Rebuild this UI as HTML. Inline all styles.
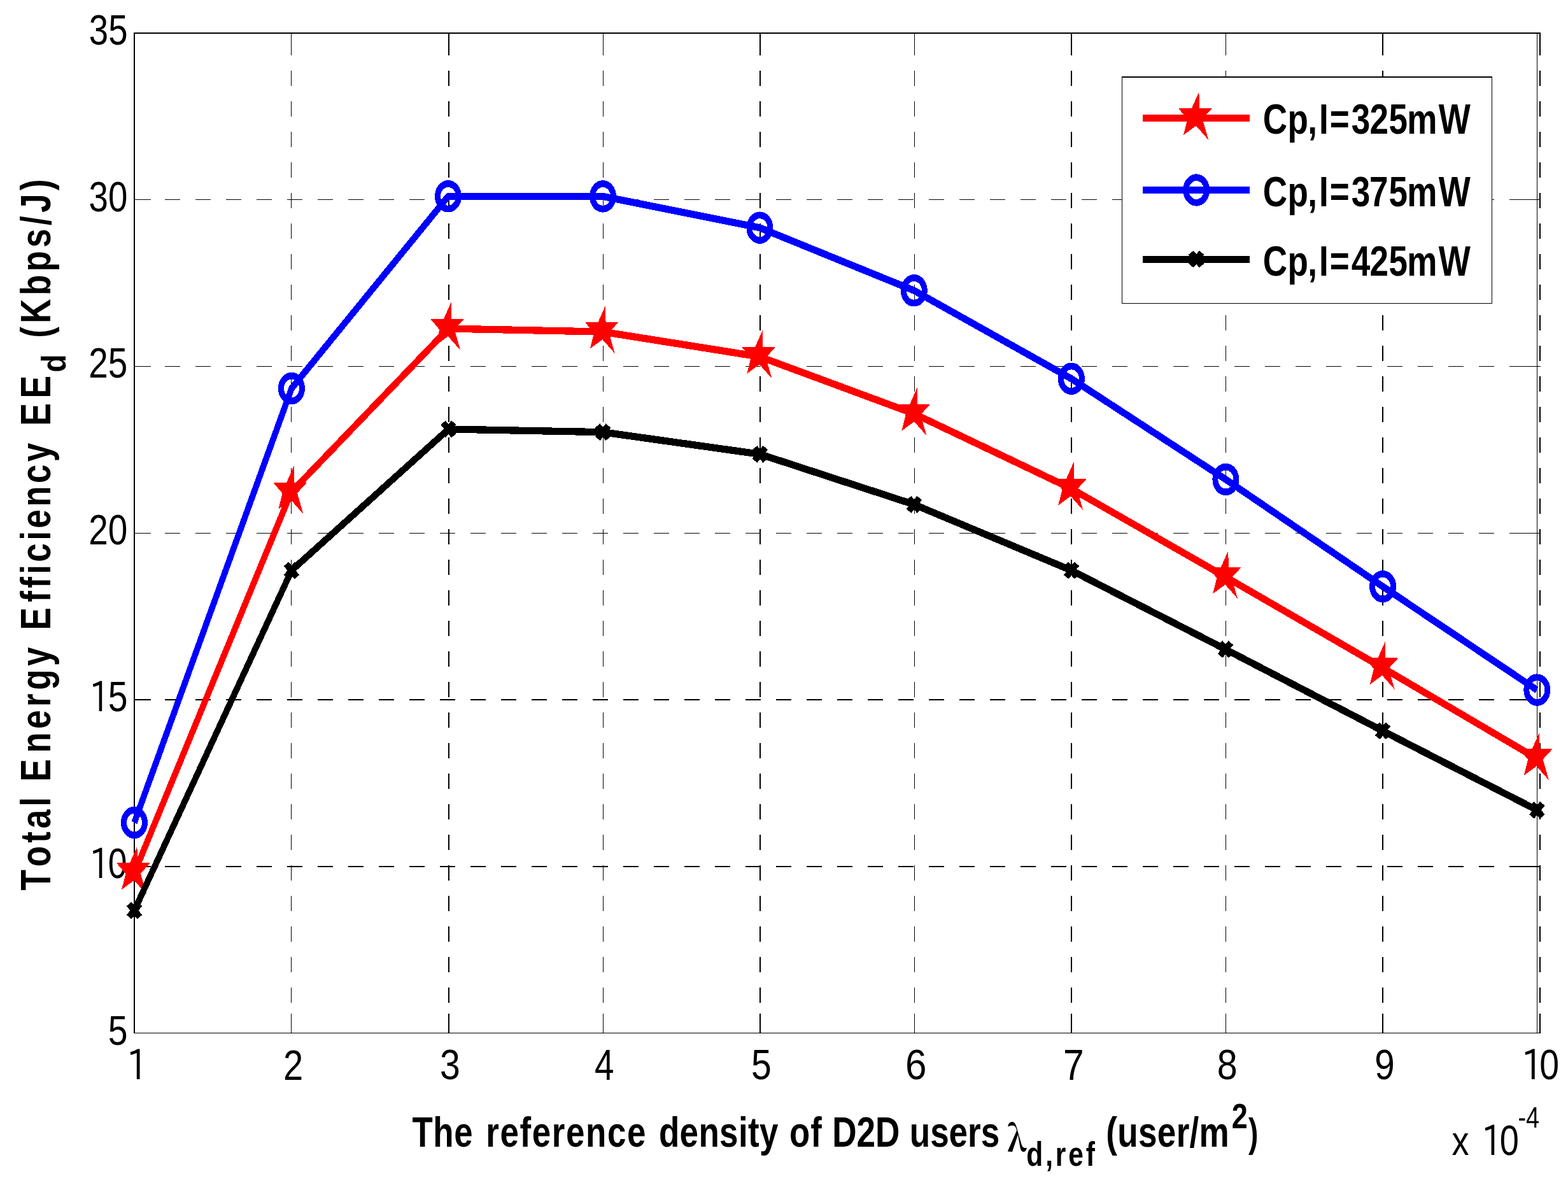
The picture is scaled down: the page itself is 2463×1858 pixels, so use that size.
<!DOCTYPE html><html><head><meta charset="utf-8"><title>Total Energy Efficiency vs reference density of D2D users</title><style>html,body{margin:0;padding:0;background:#fff;overflow:hidden}svg{display:block}text{font-kerning:none}</style></head><body><svg xmlns="http://www.w3.org/2000/svg" width="2463" height="1858" viewBox="0 0 2463 1858" shape-rendering="crispEdges"><rect width="2463" height="1858" fill="#fff"/><g stroke="#000" stroke-dasharray="24 24" fill="none"><path d="M457.5 1622.5V52" stroke-width="1"/><path d="M705 1622.5V52" stroke-width="2"/><path d="M947.5 1622.5V52" stroke-width="1"/><path d="M1194 1622.5V52" stroke-width="2"/><path d="M1436.5 1622.5V52" stroke-width="1"/><path d="M1683 1622.5V52" stroke-width="2"/><path d="M1925.5 1622.5V52" stroke-width="1"/><path d="M2172 1622.5V52" stroke-width="2"/><path d="M2419 1622.5V52" stroke-width="2"/><path d="M211 313.5H2419" stroke-width="1"/><path d="M211 575.5H2419" stroke-width="1"/><path d="M211 837.5H2419" stroke-width="1"/><path d="M211 1099H2419" stroke-width="2"/><path d="M211 1361H2419" stroke-width="2"/></g><g stroke="#000" fill="none"><path d="M457.5 52V77M457.5 1622V1592" stroke-width="1"/><path d="M705 52V77M705 1622V1592" stroke-width="2"/><path d="M947.5 52V77M947.5 1622V1592" stroke-width="1"/><path d="M1194 52V77M1194 1622V1592" stroke-width="2"/><path d="M1436.5 52V77M1436.5 1622V1592" stroke-width="1"/><path d="M1683 52V77M1683 1622V1592" stroke-width="2"/><path d="M1925.5 52V77M1925.5 1622V1592" stroke-width="1"/><path d="M2172 52V77M2172 1622V1592" stroke-width="2"/><path d="M2419 52V77M2419 1622V1592" stroke-width="2"/><path d="M211 313.5H237M2420 313.5H2388" stroke-width="1"/><path d="M211 575.5H237M2420 575.5H2388" stroke-width="1"/><path d="M211 837.5H237M2420 837.5H2388" stroke-width="1"/><path d="M211 1099H237M2420 1099H2388" stroke-width="2"/><path d="M211 1361H237M2420 1361H2388" stroke-width="2"/></g><g fill="#000"><rect x="210" y="51" width="2210" height="2"/><rect x="210" y="1622" width="2209" height="1"/><rect x="210" y="51" width="2" height="1572"/><rect x="2414" y="51" width="1" height="1572"/></g><text transform="matrix(0.54563 0 0 0.66197 139.82 70.34)" font-size="100" font-family="Liberation Sans">35</text><text transform="matrix(0.54660 0 0 0.66479 139.51 332.34)" font-size="100" font-family="Liberation Sans">30</text><text transform="matrix(0.54902 0 0 0.66197 139.25 593.34)" font-size="100" font-family="Liberation Sans">25</text><text transform="matrix(0.54902 0 0 0.66056 139.25 855.14)" font-size="100" font-family="Liberation Sans">20</text><text transform="matrix(0.51852 0 0 0.64583 140.30 1118.05)" font-size="100" font-family="IPAPGothic">1</text><text transform="matrix(0.55319 0 0 0.66429 169.79 1117.24)" font-size="100" font-family="Liberation Sans">5</text><text transform="matrix(0.52222 0 0 0.64583 140.16 1380.15)" font-size="100" font-family="IPAPGothic">1</text><text transform="matrix(0.53542 0 0 0.66197 169.86 1379.34)" font-size="100" font-family="Liberation Sans">0</text><text transform="matrix(0.55319 0 0 0.65714 169.79 1641.34)" font-size="100" font-family="Liberation Sans">5</text><text transform="matrix(0.54074 0 0 0.64444 198.65 1695.74)" font-size="100" font-family="IPAPGothic">1</text><text transform="matrix(0.56087 0 0 0.67000 444.90 1695.60)" font-size="100" font-family="Liberation Sans">2</text><text transform="matrix(0.57234 0 0 0.66056 691.11 1694.94)" font-size="100" font-family="Liberation Sans">3</text><text transform="matrix(0.54902 0 0 0.68971 933.90 1696.29)" font-size="100" font-family="Liberation Sans">4</text><text transform="matrix(0.57234 0 0 0.67000 1180.11 1694.93)" font-size="100" font-family="Liberation Sans">5</text><text transform="matrix(0.60217 0 0 0.66056 1421.99 1694.94)" font-size="100" font-family="Liberation Sans">6</text><text transform="matrix(0.58696 0 0 0.68971 1670.07 1696.29)" font-size="100" font-family="Liberation Sans">7</text><text transform="matrix(0.57447 0 0 0.66056 1911.70 1694.94)" font-size="100" font-family="Liberation Sans">8</text><text transform="matrix(0.56522 0 0 0.66056 2159.17 1694.94)" font-size="100" font-family="Liberation Sans">9</text><text transform="matrix(0.55185 0 0 0.64444 2389.43 1695.74)" font-size="100" font-family="IPAPGothic">1</text><text transform="matrix(0.55417 0 0 0.66620 2418.28 1695.33)" font-size="100" font-family="Liberation Sans">0</text><text transform="matrix(0.52593 0 0 0.64583 2327.01 1815.15)" font-size="100" font-family="IPAPGothic">1</text><text transform="matrix(0.54167 0 0 0.66197 2355.73 1814.34)" font-size="100" font-family="Liberation Sans">0</text><text transform="matrix(0.54167 0 0 0.64151 2280.46 1814.00)" font-size="100" font-family="Liberation Sans">x</text><text transform="matrix(0.37805 0 0 0.47059 2384.49 1771.47)" font-size="100" font-family="Liberation Sans">-4</text><text transform="matrix(0.48361 0 0 0.56265 1582.03 1807.57)" font-size="100" font-family="Noto Serif CJK SC" font-weight="bold">λ</text><text transform="matrix(0.46429 0 0 0.62766 1961.00 1800.82)" font-size="100" font-family="Liberation Sans" font-weight="bold">)</text><text transform="matrix(0.52841 0 0 0.66667 647.47 1801.3)" font-size="100" font-family="Liberation Sans" font-weight="bold" letter-spacing="1.151">The</text><text transform="matrix(0.53017 0 0 0.66667 763.29 1801.3)" font-size="100" font-family="Liberation Sans" font-weight="bold" letter-spacing="2.963">reference</text><text transform="matrix(0.53009 0 0 0.66667 1034.88 1801.3)" font-size="100" font-family="Liberation Sans" font-weight="bold" letter-spacing="0.620">density</text><text transform="matrix(0.52688 0 0 0.66667 1239.89 1801.3)" font-size="100" font-family="Liberation Sans" font-weight="bold" letter-spacing="2.364">of</text><text transform="matrix(0.53191 0 0 0.66667 1307.28 1801.3)" font-size="100" font-family="Liberation Sans" font-weight="bold" letter-spacing="-0.251">D2D</text><text transform="matrix(0.53125 0 0 0.66667 1428.81 1801.3)" font-size="100" font-family="Liberation Sans" font-weight="bold" letter-spacing="-0.161">users</text><text transform="matrix(0.53088 0 0 0.66667 1737.35 1801.3)" font-size="100" font-family="Liberation Sans" font-weight="bold" letter-spacing="0.541">(user/m</text><text transform="matrix(0 -0.53184 0.66667 0 79.0 1398.53)" font-size="100" font-family="Liberation Sans" font-weight="bold" letter-spacing="9.166">Total</text><text transform="matrix(0 -0.53285 0.66667 0 79.0 668.73)" font-size="100" font-family="Liberation Sans" font-weight="bold" letter-spacing="14.603">EE</text><text transform="matrix(0 -0.53043 0.66667 0 79.0 530.65)" font-size="100" font-family="Liberation Sans" font-weight="bold" letter-spacing="9.990">(Kbps/J)</text><text transform="matrix(0.42570 0 0 0.53425 1612.30 1831.00)" font-size="100" font-family="Liberation Sans" font-weight="bold" letter-spacing="9.083">d,ref</text><text transform="matrix(0.44898 0 0 0.55714 1934.65 1772.00)" font-size="100" font-family="Liberation Sans" font-weight="bold" letter-spacing="0.000">2</text><text transform="matrix(0 -0.46000 0.53836 0 103.10 584.84)" font-size="100" font-family="Liberation Sans" font-weight="bold" letter-spacing="0.000">d</text><text transform="matrix(0 -0.53051 0.66667 0 79.0 1227.41)" font-size="100" font-family="Liberation Sans" font-weight="bold" letter-spacing="10.186">E<tspan dx="7.64">nergy</tspan></text><text transform="matrix(0 -0.53051 0.66667 0 79.0 989.51)" font-size="100" font-family="Liberation Sans" font-weight="bold" letter-spacing="8.224">E<tspan dx="7.47">fficiency</tspan></text><g transform="scale(1 1.2)"><path d="M211.2 1142.17 L457.4 644.25 L704.3 430.08 L946.9 434.25 L1193.5 466.92 L1436.5 541.75 L1682.3 639.33 L1925.1 755.08 L2171.7 873.92 L2414 992.75" fill="none" stroke="#f00" stroke-width="9.4" stroke-linejoin="round"/></g><polygon points="215.45,1329.2 215.85,1355.35 234.8,1355.35 234.8,1356.6 220.8,1371.9 230.15,1404.75 210.7,1382.75 191.1,1397.1 197.35,1372.3 184,1356.6 184,1355.35 203.85,1355.35" fill="#f00"/><polygon points="461.65,731.7 462.05,757.85 481,757.85 481,759.1 467,774.4 476.35,807.25 456.9,785.25 437.3,799.6 443.55,774.8 430.2,759.1 430.2,757.85 450.05,757.85" fill="#f00"/><polygon points="708.55,474.7 708.95,500.85 727.9,500.85 727.9,502.1 713.9,517.4 723.25,550.25 703.8,528.25 684.2,542.6 690.45,517.8 677.1,502.1 677.1,500.85 696.95,500.85" fill="#f00"/><polygon points="951.15,479.7 951.55,505.85 970.5,505.85 970.5,507.1 956.5,522.4 965.85,555.25 946.4,533.25 926.8,547.6 933.05,522.8 919.7,507.1 919.7,505.85 939.55,505.85" fill="#f00"/><polygon points="1197.75,518.9 1198.15,545.05 1217.1,545.05 1217.1,546.3 1203.1,561.6 1212.45,594.45 1193,572.45 1173.4,586.8 1179.65,562 1166.3,546.3 1166.3,545.05 1186.15,545.05" fill="#f00"/><polygon points="1440.75,608.7 1441.15,634.85 1460.1,634.85 1460.1,636.1 1446.1,651.4 1455.45,684.25 1436,662.25 1416.4,676.6 1422.65,651.8 1409.3,636.1 1409.3,634.85 1429.15,634.85" fill="#f00"/><polygon points="1686.55,725.8 1686.95,751.95 1705.9,751.95 1705.9,753.2 1691.9,768.5 1701.25,801.35 1681.8,779.35 1662.2,793.7 1668.45,768.9 1655.1,753.2 1655.1,751.95 1674.95,751.95" fill="#f00"/><polygon points="1929.35,864.7 1929.75,890.85 1948.7,890.85 1948.7,892.1 1934.7,907.4 1944.05,940.25 1924.6,918.25 1905,932.6 1911.25,907.8 1897.9,892.1 1897.9,890.85 1917.75,890.85" fill="#f00"/><polygon points="2175.95,1007.3 2176.35,1033.45 2195.3,1033.45 2195.3,1034.7 2181.3,1050 2190.65,1082.85 2171.2,1060.85 2151.6,1075.2 2157.85,1050.4 2144.5,1034.7 2144.5,1033.45 2164.35,1033.45" fill="#f00"/><polygon points="2418.25,1149.9 2418.65,1176.05 2437.6,1176.05 2437.6,1177.3 2423.6,1192.6 2432.95,1225.45 2413.5,1203.45 2393.9,1217.8 2400.15,1193 2386.8,1177.3 2386.8,1176.05 2406.65,1176.05" fill="#f00"/><g transform="scale(1 1.2)"><path d="M211 1076.67 L458 508.33 L704 256.92 L947 257 L1193.4 298.08 L1435.8 380.25 L1682.9 495.67 L1925.4 627.5 L2172.1 767.67 L2414.3 903" fill="none" stroke="#00f" stroke-width="9.4" stroke-linejoin="round"/><ellipse cx="211" cy="1076.67" rx="16.5" ry="16.5" fill="none" stroke="#00f" stroke-width="9"/><ellipse cx="458" cy="508.33" rx="16.5" ry="16.5" fill="none" stroke="#00f" stroke-width="9"/><ellipse cx="704" cy="256.92" rx="16.5" ry="16.5" fill="none" stroke="#00f" stroke-width="9"/><ellipse cx="947" cy="257" rx="16.5" ry="16.5" fill="none" stroke="#00f" stroke-width="9"/><ellipse cx="1193.4" cy="298.08" rx="16.5" ry="16.5" fill="none" stroke="#00f" stroke-width="9"/><ellipse cx="1435.8" cy="380.25" rx="16.5" ry="16.5" fill="none" stroke="#00f" stroke-width="9"/><ellipse cx="1682.9" cy="495.67" rx="16.5" ry="16.5" fill="none" stroke="#00f" stroke-width="9"/><ellipse cx="1925.4" cy="627.5" rx="16.5" ry="16.5" fill="none" stroke="#00f" stroke-width="9"/><ellipse cx="2172.1" cy="767.67" rx="16.5" ry="16.5" fill="none" stroke="#00f" stroke-width="9"/><ellipse cx="2414.3" cy="903" rx="16.5" ry="16.5" fill="none" stroke="#00f" stroke-width="9"/></g><g transform="scale(1 1.2)"><path d="M211 1191.67 L458 746.67 L704.5 561.67 L947 565.58 L1194 594.5 L1436 660.33 L1683 746.58 L1925 849.83 L2172 956.58 L2414.4 1060.25" fill="none" stroke="#000" stroke-width="9.4" stroke-linejoin="round"/></g><path d="M202.6 1419.8L219.4 1440.2M202.6 1440.2L219.4 1419.8" stroke="#000" stroke-width="10" fill="none"/><path d="M449.6 885.8L466.4 906.2M449.6 906.2L466.4 885.8" stroke="#000" stroke-width="10" fill="none"/><path d="M696.1 663.8L712.9 684.2M696.1 684.2L712.9 663.8" stroke="#000" stroke-width="10" fill="none"/><path d="M938.6 668.5L955.4 688.9M938.6 688.9L955.4 668.5" stroke="#000" stroke-width="10" fill="none"/><path d="M1185.6 703.2L1202.4 723.6M1185.6 723.6L1202.4 703.2" stroke="#000" stroke-width="10" fill="none"/><path d="M1427.6 782.2L1444.4 802.6M1427.6 802.6L1444.4 782.2" stroke="#000" stroke-width="10" fill="none"/><path d="M1674.6 885.7L1691.4 906.1M1674.6 906.1L1691.4 885.7" stroke="#000" stroke-width="10" fill="none"/><path d="M1916.6 1009.6L1933.4 1030M1916.6 1030L1933.4 1009.6" stroke="#000" stroke-width="10" fill="none"/><path d="M2163.6 1137.7L2180.4 1158.1M2163.6 1158.1L2180.4 1137.7" stroke="#000" stroke-width="10" fill="none"/><path d="M2406 1262.1L2422.8 1282.5M2406 1282.5L2422.8 1262.1" stroke="#000" stroke-width="10" fill="none"/><rect x="1762" y="120" width="582" height="357" fill="#fff"/><g fill="#000"><rect x="1762" y="120" width="582" height="2"/><rect x="1762" y="476" width="582" height="1"/><rect x="1762" y="120" width="1" height="357"/><rect x="2343" y="120" width="1" height="357"/></g><rect x="1795" y="180" width="168" height="11" fill="#f00"/><polygon points="1883.45,144.1 1883.85,170.25 1902.8,170.25 1902.8,171.5 1888.8,186.8 1898.15,219.65 1878.7,197.65 1859.1,212 1865.35,187.2 1852,171.5 1852,170.25 1871.85,170.25" fill="#f00"/><rect x="1795" y="293" width="168" height="11" fill="#00f"/><g transform="scale(1 1.2)"><ellipse cx="1879.2" cy="248.75" rx="16.5" ry="16.5" fill="none" stroke="#00f" stroke-width="9"/></g><rect x="1795" y="402" width="168" height="11" fill="#000"/><path d="M1870.8 396.8L1887.6 417.2M1870.8 417.2L1887.6 396.8" stroke="#000" stroke-width="10" fill="none"/><text transform="matrix(0.53051 0 0 0.66667 0 210.2)" font-size="100" font-family="Liberation Sans" font-weight="bold"><tspan x="3739.55">C</tspan><tspan x="3812.33">p</tspan><tspan x="3872.08">,</tspan><tspan x="3905.82">I</tspan><tspan x="3937.10">=</tspan><tspan x="4001.30">3</tspan><tspan x="4055.53">2</tspan><tspan x="4112.27">5</tspan><tspan x="4166.52">m</tspan><tspan x="4259.47">W</tspan></text><text transform="matrix(0.53051 0 0 0.66667 0 324.0)" font-size="100" font-family="Liberation Sans" font-weight="bold"><tspan x="3739.55">C</tspan><tspan x="3812.33">p</tspan><tspan x="3872.08">,</tspan><tspan x="3905.82">I</tspan><tspan x="3937.10">=</tspan><tspan x="4001.30">3</tspan><tspan x="4054.53">7</tspan><tspan x="4112.27">5</tspan><tspan x="4166.52">m</tspan><tspan x="4259.47">W</tspan></text><text transform="matrix(0.53051 0 0 0.66667 0 432.9)" font-size="100" font-family="Liberation Sans" font-weight="bold"><tspan x="3739.55">C</tspan><tspan x="3812.33">p</tspan><tspan x="3872.08">,</tspan><tspan x="3905.82">I</tspan><tspan x="3937.10">=</tspan><tspan x="4001.30">4</tspan><tspan x="4055.53">2</tspan><tspan x="4112.27">5</tspan><tspan x="4166.52">m</tspan><tspan x="4259.47">W</tspan></text></svg></body></html>
